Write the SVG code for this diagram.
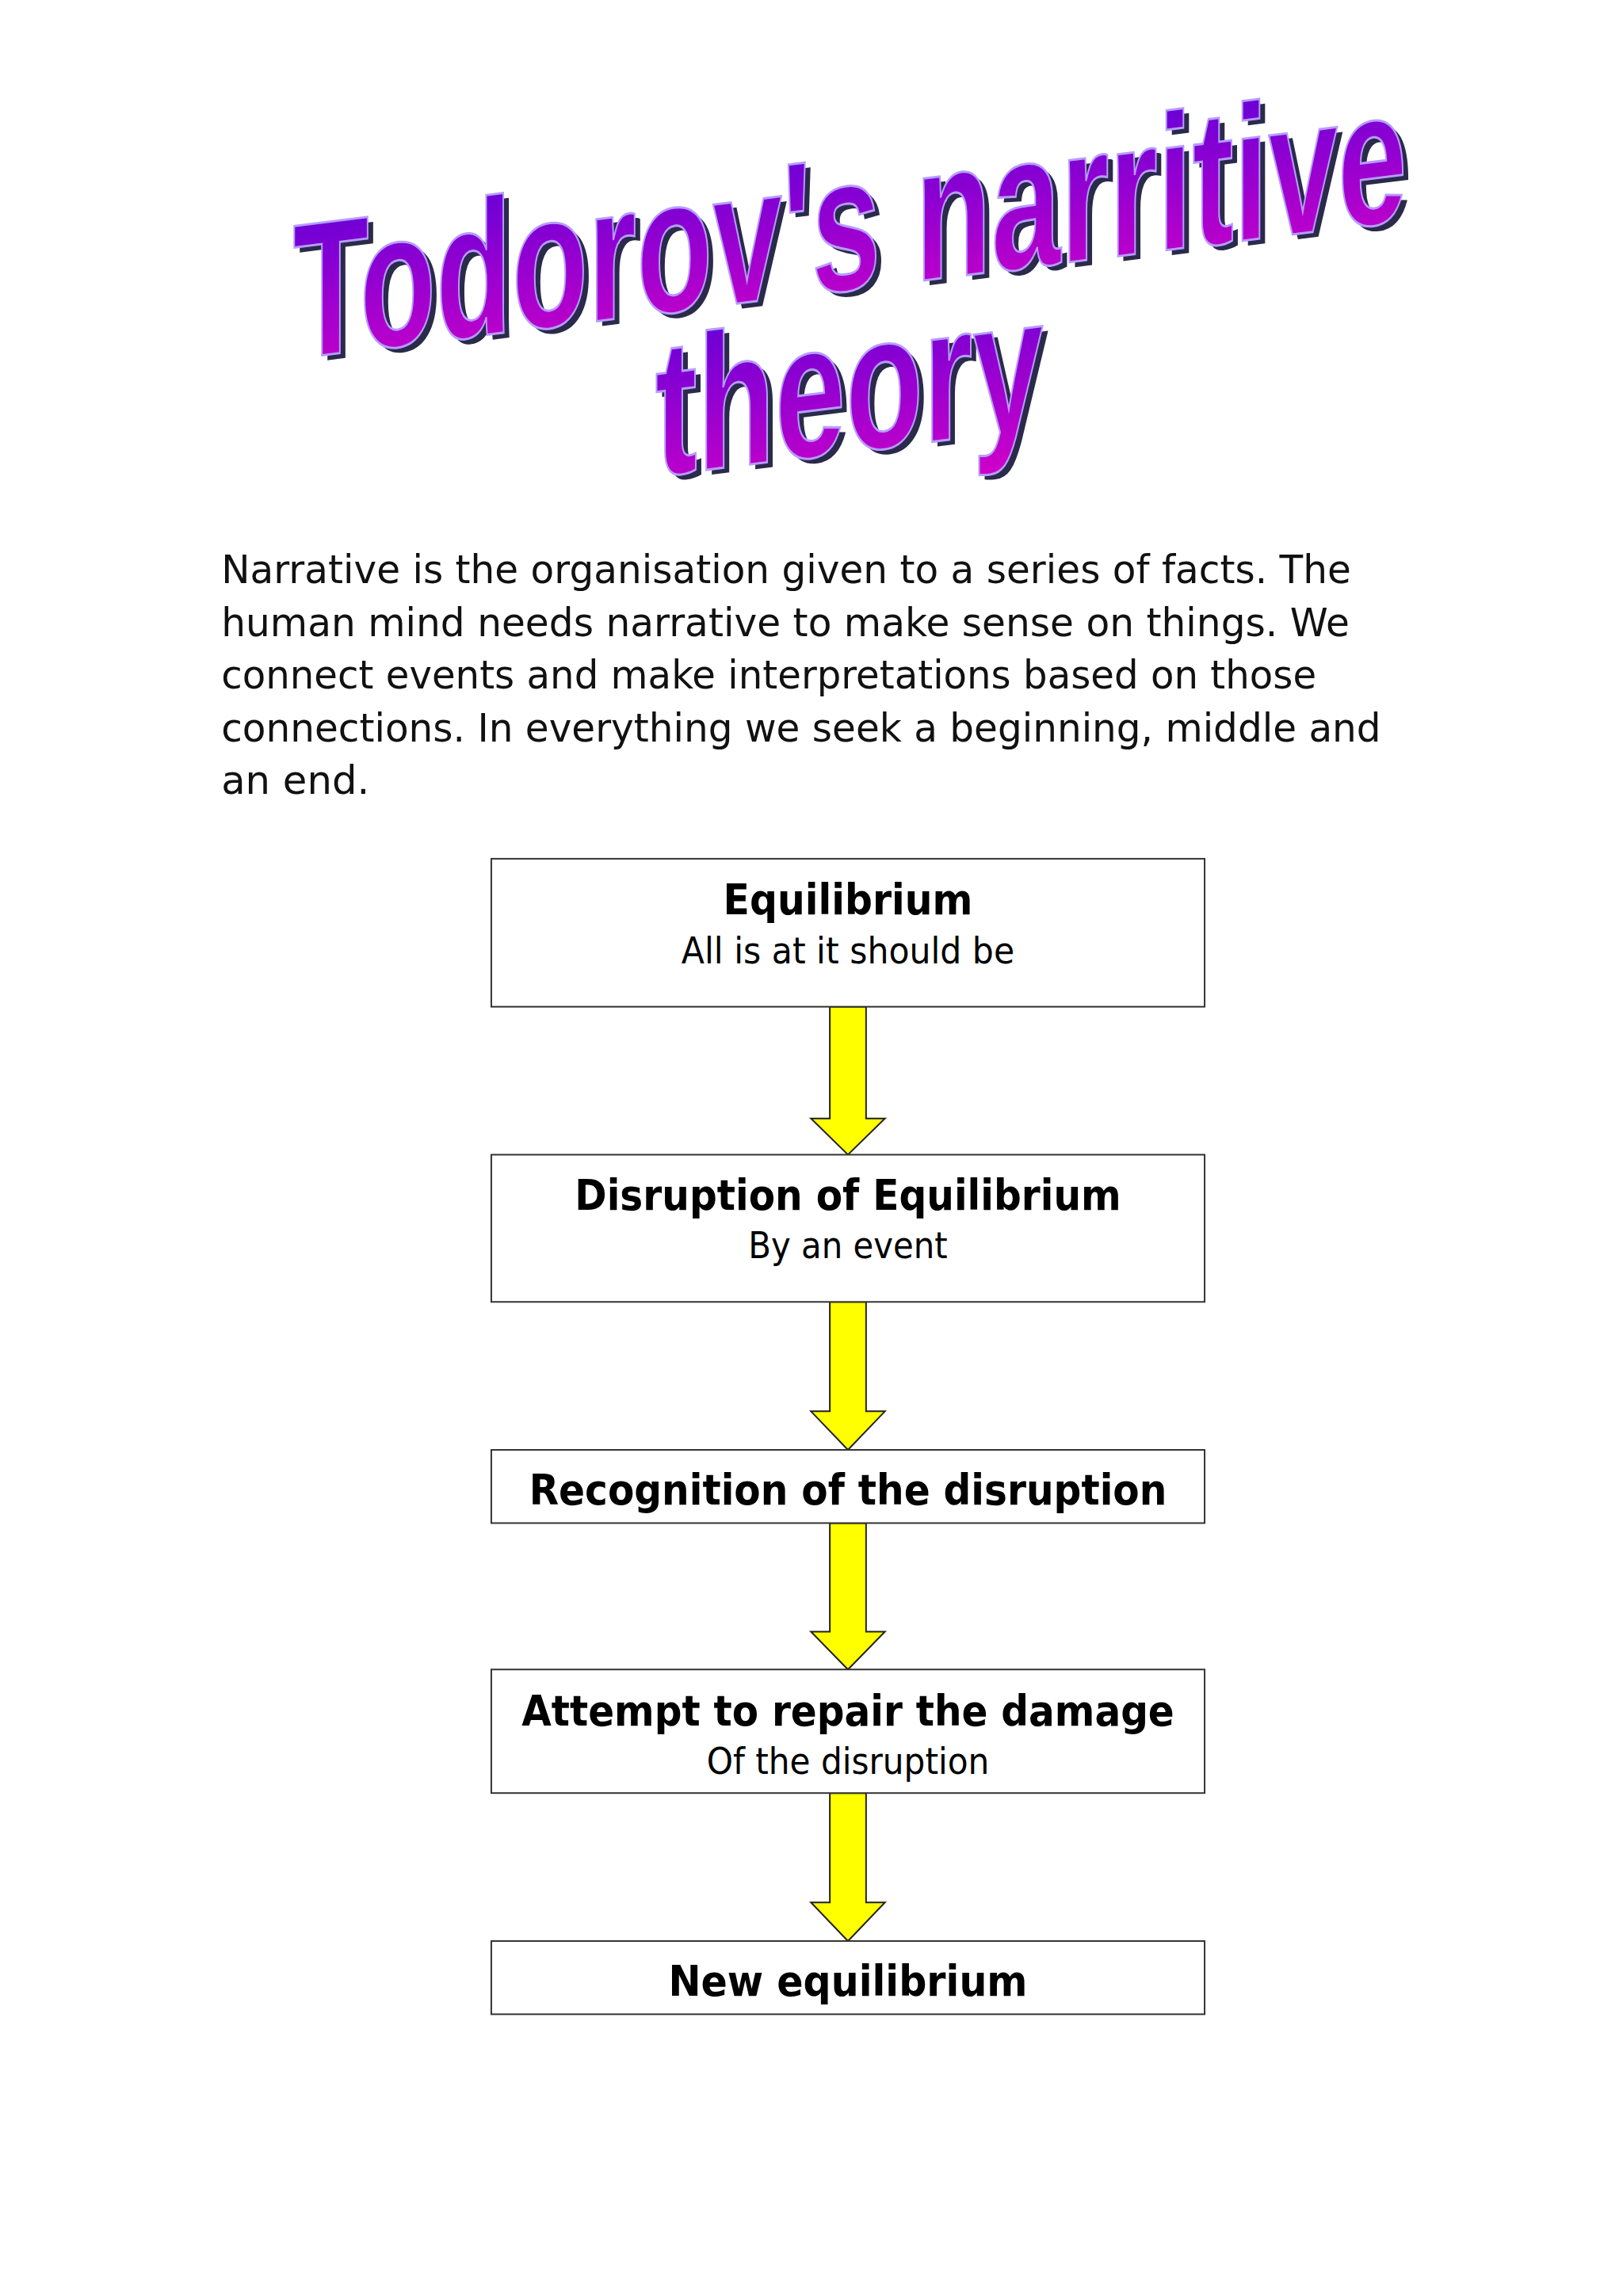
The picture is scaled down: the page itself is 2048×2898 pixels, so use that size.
<svg xmlns="http://www.w3.org/2000/svg" width="2048" height="2898" viewBox="0 0 2048 2898">
<defs>
<linearGradient id="wa" x1="0" y1="0" x2="0" y2="1">
<stop offset="0" stop-color="#5a00d8"/>
<stop offset="1" stop-color="#d000c8"/>
</linearGradient>
</defs>
<style>
.wa{font-family:"Liberation Sans Narrow","Liberation Sans",sans-serif;font-weight:bold;font-size:245px}
.sh{fill:#2a2a4a}
.fg{fill:url(#wa);stroke:#b69cff;stroke-width:3}
.p{font-family:"DejaVu Sans",Verdana,sans-serif;font-size:50px;fill:#111}
.box{fill:#fff;stroke:#333;stroke-width:2}
.h{font-family:"DejaVu Sans",Verdana,sans-serif;font-weight:bold;font-size:54px;fill:#000;text-anchor:middle}
.s{font-family:"DejaVu Sans",Verdana,sans-serif;font-size:46px;fill:#000;text-anchor:middle}
.ar{fill:#ffff00;stroke:#222;stroke-width:2}
</style>
<rect width="2048" height="2898" fill="#fff"/>
<g transform="scale(0.9935)">
<g id="title">
<g transform="translate(372,456) skewY(-7.1)">
<text class="wa sh" x="7" y="7" textLength="1415" lengthAdjust="spacingAndGlyphs">Todorov's narritive</text>
<text class="wa fg" x="0" y="0" textLength="1415" lengthAdjust="spacingAndGlyphs">Todorov's narritive</text>
</g>
<g transform="translate(832,605) skewY(-7.1)">
<text class="wa sh" x="7" y="7" textLength="493" lengthAdjust="spacingAndGlyphs">theory</text>
<text class="wa fg" x="0" y="0" textLength="493" lengthAdjust="spacingAndGlyphs">theory</text>
</g>
</g>
<g id="intro">
<text class="p" x="281" y="741" textLength="1435" lengthAdjust="spacingAndGlyphs">Narrative is the organisation given to a series of facts. The</text>
<text class="p" x="281" y="808" textLength="1433" lengthAdjust="spacingAndGlyphs">human mind needs narrative to make sense on things. We</text>
<text class="p" x="281" y="875" textLength="1391" lengthAdjust="spacingAndGlyphs">connect events and make interpretations based on those</text>
<text class="p" x="281" y="942" textLength="1473" lengthAdjust="spacingAndGlyphs">connections. In everything we seek a beginning, middle and</text>
<text class="p" x="281" y="1009">an end.</text>
</g>
<g id="connectors">
<path class="ar" d="M1054,1279 V1421 H1030 L1077,1467 L1124,1421 H1100 V1279 Z"/>
<path class="ar" d="M1054,1654 V1793 H1030 L1077,1842 L1124,1793 H1100 V1654 Z"/>
<path class="ar" d="M1054,1935 V2073 H1030 L1077,2121 L1124,2073 H1100 V1935 Z"/>
<path class="ar" d="M1054,2278 V2417 H1030 L1077,2466 L1124,2417 H1100 V2278 Z"/>
</g>
<g id="n1">
<rect class="box" x="624" y="1091" width="906" height="188"/>
<text class="h" x="1077" y="1162" textLength="317" lengthAdjust="spacingAndGlyphs">Equilibrium</text>
<text class="s" x="1077" y="1224" textLength="423" lengthAdjust="spacingAndGlyphs">All is at it should be</text>
</g>
<g id="n2">
<rect class="box" x="624" y="1467" width="906" height="187"/>
<text class="h" x="1077" y="1537" textLength="694" lengthAdjust="spacingAndGlyphs">Disruption of Equilibrium</text>
<text class="s" x="1077" y="1598" textLength="253" lengthAdjust="spacingAndGlyphs">By an event</text>
</g>
<g id="n3">
<rect class="box" x="624" y="1842" width="906" height="93"/>
<text class="h" x="1077" y="1911" textLength="810" lengthAdjust="spacingAndGlyphs">Recognition of the disruption</text>
</g>
<g id="n4">
<rect class="box" x="624" y="2121" width="906" height="157"/>
<text class="h" x="1077" y="2192" textLength="829" lengthAdjust="spacingAndGlyphs">Attempt to repair the damage</text>
<text class="s" x="1077" y="2254" textLength="359" lengthAdjust="spacingAndGlyphs">Of the disruption</text>
</g>
<g id="n5">
<rect class="box" x="624" y="2466" width="906" height="93"/>
<text class="h" x="1077" y="2535" textLength="456" lengthAdjust="spacingAndGlyphs">New equilibrium</text>
</g>
</g>
</svg>
